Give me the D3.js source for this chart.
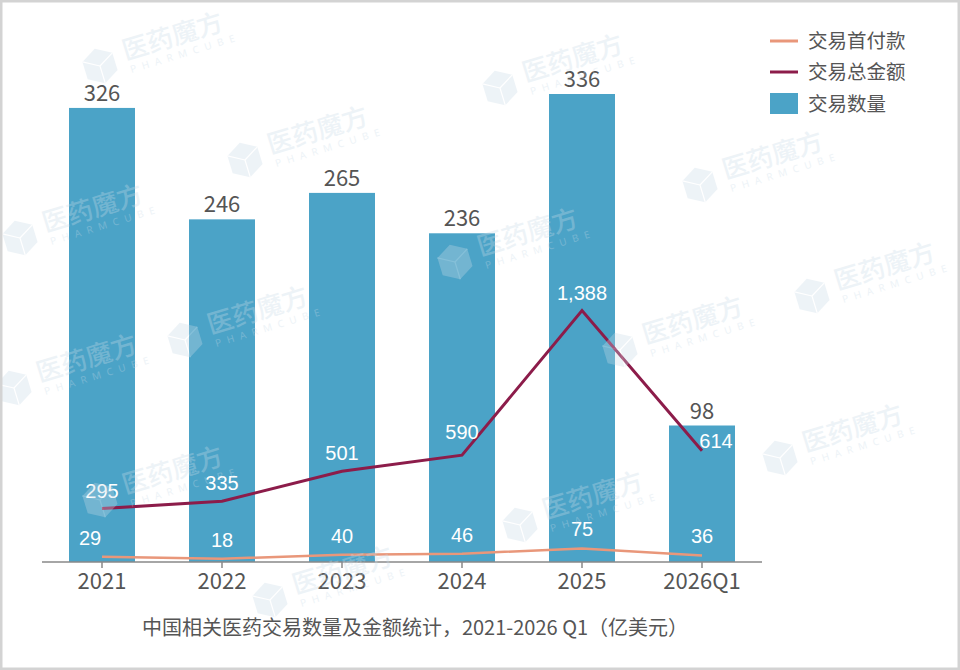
<!DOCTYPE html>
<head>
<meta charset="utf-8">
<style>
body { margin: 0; background: #fff; }
svg { display: block; }
.barLabel { font: 22px "Noto Sans CJK SC", "Noto Sans", sans-serif; fill: #555; text-anchor: middle; }
.inLabel { font: 20px "Liberation Sans", Arial, sans-serif; fill: #fff; text-anchor: middle; }
.xLabel { font: 22px "Noto Sans CJK SC", "Noto Sans", sans-serif; fill: #555; text-anchor: middle; }
.legendText { font: 19.5px "Noto Sans CJK SC", sans-serif; fill: #555; }
.title { font: 20px "Noto Sans CJK SC", sans-serif; fill: #555; text-anchor: middle; }
.wm { font: 500 26px "Noto Sans CJK SC", sans-serif; }
.wmSub { font: 10px "Noto Sans", sans-serif; letter-spacing: 6px; }
</style>
</head>
<body>
<svg width="960" height="670"></svg>
<script src="https://d3js.org/d3.v7.min.js"></script>
<script>
// data
var years = ["2021", "2022", "2023", "2024", "2025", "2026Q1"];
var dealCount = [326, 246, 265, 236, 336, 98];
var totalAmount = [295, 335, 501, 590, 1388, 614];
var upfront = [29, 18, 40, 46, 75, 36];
var legendNames = ["交易首付款", "交易总金额", "交易数量"];
var titleText = "中国相关医药交易数量及金额统计，2021-2026 Q1（亿美元）";

var barColor = "#4ba3c7",
    amountColor = "#8c1c4a",
    upfrontColor = "#e9977a";

var svg = d3.select("svg"),
    baseY = 562;

var x = d3.scaleBand()
    .domain(years)
    .range([42, 762])
    .paddingInner(0.45)
    .paddingOuter(0.225);

var yCount = d3.scaleLinear().domain([0, 350]).range([baseY, 74.5]);
var yAmount = d3.scaleLinear().domain([0, 2700]).range([baseY, 73]);

function cx(d) { return x(d) + x.bandwidth() / 2; }

// bars
svg.append("g").selectAll("rect")
  .data(years)
  .enter().append("rect")
    .attr("x", function(d) { return x(d); })
    .attr("width", x.bandwidth())
    .attr("y", function(d, i) { return yCount(dealCount[i]); })
    .attr("height", function(d, i) { return baseY - yCount(dealCount[i]); })
    .attr("fill", barColor);

svg.append("g").selectAll("text")
  .data(years)
  .enter().append("text")
    .attr("class", "barLabel")
    .attr("x", cx)
    .attr("y", function(d, i) { return yCount(dealCount[i]) - 7; })
    .text(function(d, i) { return dealCount[i]; });

// axis
svg.append("line")
    .attr("x1", 42).attr("x2", 762)
    .attr("y1", baseY).attr("y2", baseY)
    .attr("stroke", "#888").attr("stroke-width", 1.5);

svg.append("g").selectAll("line")
  .data(years)
  .enter().append("line")
    .attr("x1", cx).attr("x2", cx)
    .attr("y1", baseY).attr("y2", baseY + 6)
    .attr("stroke", "#888").attr("stroke-width", 1.5);

svg.append("g").selectAll("text")
  .data(years)
  .enter().append("text")
    .attr("class", "xLabel")
    .attr("x", cx)
    .attr("y", baseY + 27)
    .text(function(d) { return d; });

// lines
var line = d3.line()
    .x(function(d, i) { return cx(years[i]); })
    .y(function(d) { return yAmount(d); });

svg.append("path")
    .datum(upfront)
    .attr("d", line)
    .attr("fill", "none")
    .attr("stroke", upfrontColor)
    .attr("stroke-width", 2.5);

svg.append("path")
    .datum(totalAmount)
    .attr("d", line)
    .attr("fill", "none")
    .attr("stroke", amountColor)
    .attr("stroke-width", 3);

// line labels
svg.append("g").selectAll("text")
  .data(totalAmount)
  .enter().append("text")
    .attr("class", "inLabel")
    .attr("x", function(d, i) { return cx(years[i]) + (i === totalAmount.length - 1 ? 14 : 0); })
    .attr("y", function(d, i) { return yAmount(d) - (i === totalAmount.length - 1 ? 10 : (i === 3 ? 23 : 18)); })
    .attr("dy", "0.35em")
    .text(function(d) { return d3.format(",")(d); });

svg.append("g").selectAll("text")
  .data(upfront)
  .enter().append("text")
    .attr("class", "inLabel")
    .attr("x", function(d, i) { return cx(years[i]) - (i === 0 ? 12 : 0); })
    .attr("y", function(d) { return yAmount(d) - 19; })
    .attr("dy", "0.35em")
    .text(function(d) { return d; });

// legend
var legend = svg.append("g").attr("transform", "translate(770,41)");
legendNames.forEach(function(name, i) {
  var row = legend.append("g").attr("transform", "translate(0," + (i === 2 ? 63 : i * 31) + ")");
  if (i < 2) {
    row.append("line")
        .attr("x1", 0).attr("x2", 28)
        .attr("stroke", i === 0 ? upfrontColor : amountColor)
        .attr("stroke-width", 3);
  } else {
    row.append("rect")
        .attr("x", 0).attr("y", -11)
        .attr("width", 28).attr("height", 21)
        .attr("fill", barColor);
  }
  row.append("text")
      .attr("class", "legendText")
      .attr("x", 38)
      .attr("dy", "0.35em")
      .text(name);
});

// title
svg.append("text")
    .attr("class", "title")
    .attr("x", 415)
    .attr("y", 635)
    .text(titleText);

// watermarks
var wmSpots = [[100, 66], [245, 160], [500, 88], [700, 185], [455, 262], [812, 296],
               [185, 340], [620, 350], [14, 388], [780, 458], [100, 500], [520, 525],
               [270, 600], [20, 238]];
var wm = svg.append("g").attr("pointer-events", "none");
wmSpots.forEach(function(p) {
  var g = wm.append("g")
      .attr("transform", "translate(" + p[0] + "," + p[1] + ") rotate(-17)")
      .attr("opacity", 0.32);
  var hex = d3.range(6).map(function(k) {
    var a = Math.PI / 3 * k + Math.PI / 6;
    return [18 * Math.cos(a), 18 * Math.sin(a)];
  });
  g.append("polygon")
      .attr("points", hex.map(function(q) { return q.join(","); }).join(" "))
      .attr("fill", "#c9dbe8");
  g.append("path")
      .attr("d", "M0,0 L0,18 M0,0 L-15.6,-9 M0,0 L15.6,-9")
      .attr("stroke", "#fff").attr("stroke-width", 1.2);
  g.append("text")
      .attr("class", "wm")
      .attr("x", 26).attr("y", 2)
      .attr("fill", "#c9dbe8")
      .text("医药魔方");
  g.append("text")
      .attr("class", "wmSub")
      .attr("x", 28).attr("y", 16)
      .attr("fill", "#c9dbe8")
      .text("PHARMCUBE");
});

// frame
svg.append("rect")
    .attr("x", 1.25).attr("y", 1.25)
    .attr("width", 957.5).attr("height", 667.5)
    .attr("fill", "none")
    .attr("stroke", "#d3d3d3")
    .attr("stroke-width", 2.5);
</script>
</body>
